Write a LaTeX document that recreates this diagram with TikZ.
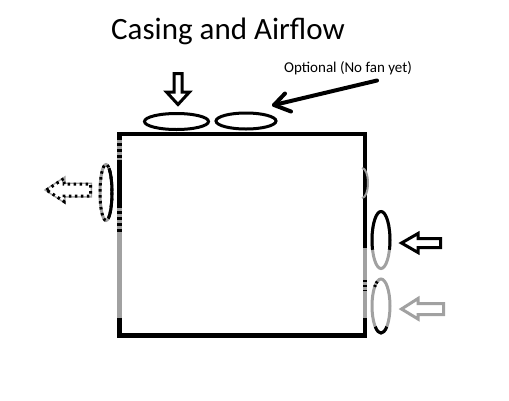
\documentclass[tikz,border=0pt]{standalone}
\usetikzlibrary{shapes.geometric}
\usepackage{fontspec}
\setmainfont{Carlito}
\begin{document}
\begin{tikzpicture}[x=1pt,y=-1pt,
  casing/.style={line width=4.5pt},
  fanring/.style={line width=3pt},
  blockarrow/.style={line width=3pt, line join=miter, fill=white},
  stripes/.style={dash pattern=on 2.5pt off 3.5pt},
  pointer/.style={line width=4pt, line cap=round, line join=round}]
\definecolor{ghost}{gray}{0.63}
\useasboundingbox (0,0) rectangle (509,400);
% texts
\node[font=\fontsize{31}{36}\selectfont, inner sep=0pt] (title) at (228,31) {Casing and Airflow};
\node[font=\fontsize{15}{18}\selectfont, inner sep=0pt] (opt) at (348,68) {Optional (No fan yet)};
% casing
\coordinate (tl) at (119.5,134);
\coordinate (tr) at (365,134);
\coordinate (br) at (365,335.5);
\coordinate (bl) at (119.5,335.5);
\draw[casing, line join=miter] (tl) -- (tr) -- (br) -- (bl) -- cycle;
\draw[casing, ghost] (119.5,136.5) -- (119.5,318);
\draw[casing] (119.5,160) -- (119.5,205);
\draw[casing, stripes] (119.5,137) -- (119.5,160);
\draw[casing, stripes] (119.5,205) -- (119.5,234);
\draw[casing, ghost] (365,248) -- (365,318);
\draw[casing, dash pattern=on 2pt off 3pt] (365,280) -- (365,291);
\draw[ghost, line width=2pt] (362,168) arc[start angle=-90, end angle=90, x radius=6, y radius=15];
% top fans
\node[fanring, draw, ellipse, minimum width=64pt, minimum height=16pt, inner sep=0pt] (fan1) at (176.5,121.5) {};
\node[fanring, draw, ellipse, minimum width=60pt, minimum height=16pt, inner sep=0pt] (fan2) at (246,121) {};
% left fan
\node[fanring, draw=ghost, ellipse, minimum width=12pt, minimum height=56pt, inner sep=0pt] (fan3) at (106,192.5) {};
\draw[fanring, stripes] (fan3.center) ellipse[x radius=6, y radius=28];
\draw[fanring] (fan3.center) ++(3,-24.2) arc[start angle=-60, end angle=60, x radius=6, y radius=28];
% right fans
\node[fanring, draw=ghost, ellipse, minimum width=18pt, minimum height=57pt, inner sep=0pt] (fan4) at (381,240) {};
\draw[fanring] (fan4.center) ++(-8.46,9.75) arc[start angle=160, end angle=380, x radius=9, y radius=28.5];
\node[fanring, draw=ghost, ellipse, minimum width=18pt, minimum height=54pt, inner sep=0pt] (fan5) at (381,306) {};
\draw[fanring] (fan5.center) ++(5.79,20.7) arc[start angle=50, end angle=130, x radius=9, y radius=27];
\draw[fanring, dash pattern=on 2pt off 2pt] (fan5.center) ++(-6.36,-19.1) arc[start angle=225, end angle=250, x radius=9, y radius=27];
% block arrows
\draw[blockarrow] (174,73.5) -- (182,73.5) -- (182,92) -- (189.5,92) -- (178,104.5) -- (166.5,92) -- (174,92) -- cycle;
\draw[blockarrow, draw=ghost] (46.5,190) -- (64,178.5) -- (64,184) -- (90.5,184) -- (90.5,196) -- (64,196) -- (64,201.5) -- cycle;
\draw[blockarrow, stripes] (46.5,190) -- (64,178.5) -- (64,184) -- (90.5,184) -- (90.5,196) -- (64,196) -- (64,201.5) -- cycle;
\draw[blockarrow] (401.5,243) -- (418,233.5) -- (418,238.5) -- (440.5,238.5) -- (440.5,247.5) -- (418,247.5) -- (418,252.5) -- cycle;
\draw[blockarrow, draw=ghost] (401.5,309) -- (418,298.5) -- (418,303.5) -- (443.5,303.5) -- (443.5,314.5) -- (418,314.5) -- (418,319) -- cycle;
% optional pointer
\coordinate (optail) at (377,80.5);
\coordinate (optip) at (274,105);
\draw[pointer] (optail) -- (optip);
\draw[pointer] (285,93.5) -- (optip) -- (291,111.5);
\end{tikzpicture}
\end{document}
